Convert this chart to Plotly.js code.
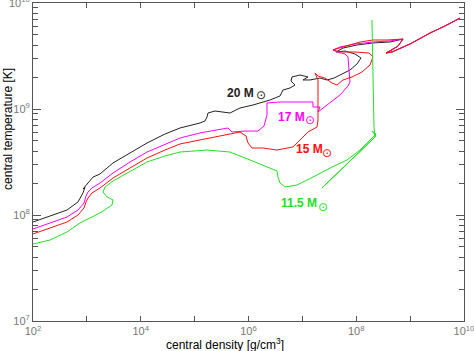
<!DOCTYPE html>
<html>
<head>
<meta charset="utf-8">
<script src="https://cdn.plot.ly/plotly-3.0.1.min.js"></script>
<style>html,body{margin:0;padding:0;background:#fff;}#chart{width:474px;height:351px;}</style>
</head>
<body>
<div id="chart"></div>
<script>
// log10 central density and log10 central temperature
const m20_logRho = [2.000,2.316,2.631,2.835,2.928,2.965,2.928,2.984,3.021,3.114,3.244,3.485,3.800,4.116,4.450,4.729,5.100,5.193,5.230,5.248,5.378,5.508,5.657,5.768,5.842,6.084,6.399,6.585,6.640,6.770,6.863,6.789,6.807,6.956,7.104,7.012,7.142,7.327,7.457,7.587,7.698,7.884,8.014,8.088,7.977,7.791,7.624,7.754,8.014,8.311,8.626,8.868,8.775,8.664,8.552,8.664,8.998,9.369,9.647,9.926];
const m20_logT   = [7.934,7.991,8.047,8.123,8.208,8.264,8.245,8.283,8.302,8.358,8.387,8.491,8.585,8.679,8.764,8.821,8.868,8.887,8.925,8.962,8.981,8.972,8.962,8.991,9.009,9.038,9.085,9.123,9.179,9.198,9.226,9.264,9.302,9.321,9.302,9.274,9.274,9.292,9.274,9.292,9.321,9.368,9.425,9.481,9.519,9.547,9.538,9.575,9.604,9.623,9.632,9.660,9.594,9.557,9.528,9.538,9.613,9.717,9.783,9.858];

const m17_logRho = [2.000,2.316,2.631,2.835,2.947,2.984,3.021,3.095,3.244,3.485,3.800,4.116,4.450,4.729,5.100,5.471,5.619,5.694,5.935,6.176,6.288,6.343,6.343,6.585,6.956,7.197,7.197,7.327,7.290,7.383,7.513,7.698,7.847,7.884,7.865,7.847,7.791,7.643,7.568,7.698,7.977,8.311,8.626,8.868,8.775,8.664,8.552,8.664,8.998,9.369,9.647,9.926];
const m17_logT   = [7.868,7.925,7.981,8.047,8.113,8.179,8.217,8.255,8.302,8.396,8.500,8.594,8.670,8.726,8.774,8.811,8.821,8.783,8.792,8.792,8.840,8.943,9.057,9.066,9.066,9.066,9.019,9.019,8.972,9.009,9.057,9.132,9.217,9.255,9.368,9.491,9.519,9.538,9.557,9.585,9.613,9.632,9.642,9.660,9.594,9.557,9.528,9.538,9.613,9.717,9.783,9.858];

const m15_logRho = [2.000,2.316,2.631,2.835,2.947,2.984,3.021,3.095,3.244,3.485,3.800,4.116,4.450,4.729,5.100,5.471,5.842,5.954,5.991,6.065,6.269,6.529,6.826,6.956,7.104,7.271,7.290,7.290,7.290,7.234,7.290,7.420,7.550,7.643,7.754,7.921,8.107,8.255,8.311,8.237,7.977,7.698,7.568,7.754,8.070,8.311,8.571,8.868,8.775,8.664,8.552,8.664,8.998,9.369,9.647,9.926];
const m15_logT   = [7.821,7.877,7.934,8.000,8.066,8.123,8.160,8.208,8.255,8.349,8.443,8.538,8.613,8.670,8.708,8.745,8.783,8.745,8.679,8.632,8.632,8.613,8.642,8.708,8.783,8.830,8.896,9.085,9.274,9.340,9.311,9.292,9.245,9.226,9.274,9.302,9.349,9.415,9.491,9.528,9.538,9.538,9.557,9.585,9.632,9.651,9.651,9.660,9.594,9.557,9.528,9.538,9.613,9.717,9.783,9.858];

const m115_logRho = [2.000,2.316,2.631,2.872,3.244,3.392,3.466,3.485,3.374,3.299,3.336,3.485,3.745,4.116,4.450,4.729,5.230,5.657,6.028,6.399,6.529,6.548,6.585,6.677,6.900,7.197,7.513,7.828,8.070,8.292,8.367,8.292,8.367,7.364,8.348,8.329,8.311,8.292];
const m115_logT   = [7.726,7.764,7.840,7.925,8.019,8.066,8.094,8.142,8.170,8.217,8.264,8.321,8.396,8.500,8.557,8.594,8.613,8.594,8.519,8.443,8.415,8.358,8.302,8.264,8.283,8.358,8.443,8.519,8.613,8.726,8.764,8.792,8.745,8.255,8.736,8.830,9.274,9.840];

const seriesNames  = ["20 M", "17 M", "15 M", "11.5 M"];
const seriesColors = ["#222222", "#ff00ff", "#ff1010", "#22e022"];

const xTickVals = [1e2,1e3,1e4,1e5,1e6,1e7,1e8,1e9,1e10];
const xTickText = ["10<sup>2</sup>","","10<sup>4</sup>","","10<sup>6</sup>","","10<sup>8</sup>","","10<sup>10</sup>"];
const yTickVals = [1e7,1e8,1e9,1e10];
const yTickText = ["10<sup>7</sup>","10<sup>8</sup>","10<sup>9</sup>","10<sup>10</sup>"];
const yMinorVals = [];
[1e7,1e8,1e9].forEach(d => { for (let k = 2; k <= 9; k++) yMinorVals.push(k*d); });

const pow10 = a => a.map(v => Math.pow(10, v));
const allRho = [m20_logRho, m17_logRho, m15_logRho, m115_logRho];
const allT   = [m20_logT, m17_logT, m15_logT, m115_logT];

const traces = allRho.map((r, i) => ({
  x: pow10(r), y: pow10(allT[i]), type: 'scatter', mode: 'lines',
  name: seriesNames[i], line: {color: seriesColors[i], width: 1}, hoverinfo: 'skip'
}));

// label positions (log units)
const lab = [
  {t: "20 M",   x: 5.851, y: 9.151, ox: 6.232, oy: 9.132},
  {t: "17 M",   x: 6.798, y: 8.925, ox: 7.142, oy: 8.896},
  {t: "15 M",   x: 7.132, y: 8.623, ox: 7.457, oy: 8.585},
  {t: "11.5 M", x: 6.928, y: 8.113, ox: 7.383, oy: 8.075}
];
const annotations = [];
lab.forEach((l, i) => {
  annotations.push({x: l.x, y: l.y, xref: 'x', yref: 'y', text: '<b>' + l.t + '</b>', showarrow: false,
    font: {family: 'Liberation Sans, Arial, sans-serif', size: 12, color: seriesColors[i]}, xanchor: 'center', yanchor: 'middle'});
  annotations.push({x: l.ox, y: l.oy, xref: 'x', yref: 'y', text: '\u2299', showarrow: false,
    font: {family: 'DejaVu Sans, sans-serif', size: 12, color: seriesColors[i]}, xanchor: 'center', yanchor: 'middle'});
});
annotations.push({x: 0.445, y: -0.072, xref: 'paper', yref: 'paper', text: 'central density [g/cm<sup>3</sup>]',
  showarrow: false, font: {family: 'Liberation Sans, Arial, sans-serif', size: 12, color: '#000'}, xanchor: 'center', yanchor: 'middle'});
annotations.push({x: -0.058, y: 0.604, xref: 'paper', yref: 'paper', text: 'central temperature [K]', textangle: -90,
  showarrow: false, font: {family: 'Liberation Sans, Arial, sans-serif', size: 12, color: '#000'}, xanchor: 'center', yanchor: 'middle'});

const layout = {
  width: 474, height: 351,
  margin: {l: 33, r: 10, t: 3, b: 30, pad: 0},
  paper_bgcolor: '#fff', plot_bgcolor: '#fff',
  showlegend: false,
  font: {family: 'Liberation Sans, Arial, sans-serif', size: 11, color: '#666'},
  xaxis: {type: 'log', range: [2, 10], tickmode: 'array', tickvals: xTickVals, ticktext: xTickText,
    ticks: 'inside', ticklen: 5, tickcolor: '#555', showline: true, linecolor: '#555', linewidth: 1,
    mirror: 'ticks', showgrid: false, zeroline: false, tickfont: {size: 11, color: '#777'},
    ticklabeloverflow: 'allow'},
  yaxis: {type: 'log', range: [7, 10], tickmode: 'array', tickvals: yTickVals, ticktext: yTickText,
    ticks: 'inside', ticklen: 8, tickcolor: '#555', showline: true, linecolor: '#555', linewidth: 1,
    mirror: 'ticks', showgrid: false, zeroline: false, tickfont: {size: 11, color: '#777'},
    ticklabeloverflow: 'allow',
    minor: {tickmode: 'array', tickvals: yMinorVals, ticks: 'inside', ticklen: 5, tickcolor: '#555', showgrid: false}},
  annotations: annotations
};

Plotly.newPlot('chart', traces, layout, {staticPlot: true, displayModeBar: false});
</script>
</body>
</html>
